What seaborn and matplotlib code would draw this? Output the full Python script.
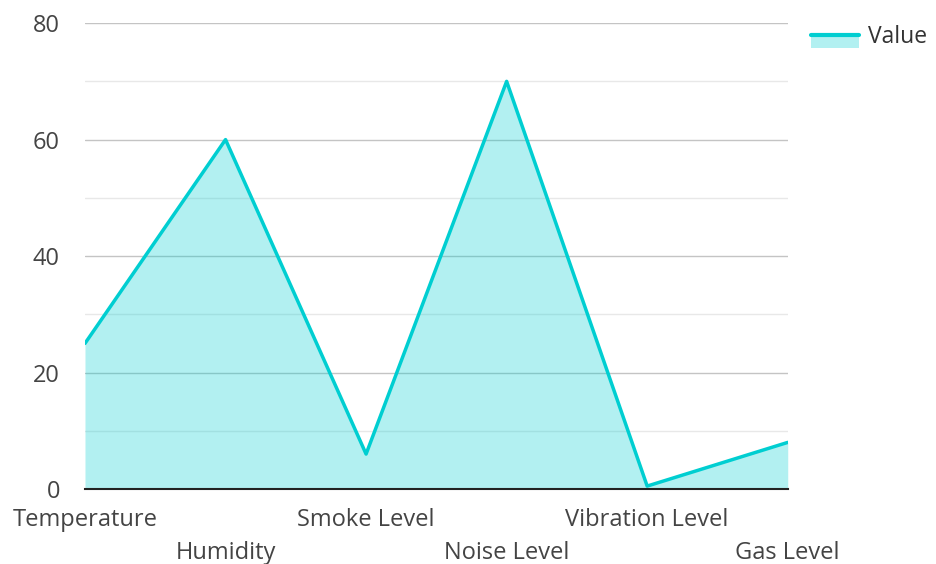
import matplotlib
matplotlib.use("Agg")
import matplotlib.pyplot as plt
import seaborn as sns
import pandas as pd
from matplotlib.legend_handler import HandlerBase
from matplotlib.patches import Rectangle
from matplotlib.lines import Line2D
from matplotlib.ticker import MultipleLocator

categories = ["Temperature", "Humidity", "Smoke Level", "Noise Level", "Vibration Level", "Gas Level"]
values = [25, 60, 6, 70, 0.5, 8]

line_color = "#00CED1"

sns.set_style("white")
plt.rcParams["font.family"] = ["Open Sans", "DejaVu Sans"]

df = pd.DataFrame({"x": range(len(categories)), "Value": values})

fig = plt.figure(figsize=(9.37, 5.64), dpi=100)
ax = fig.add_axes([0.0907, 0.133, 0.750, 0.826])

# grid under a translucent fill, so it shows through like the original
ax.grid(True, which="major", axis="y", color="#c4c4c4", lw=1, zorder=0)
ax.grid(True, which="minor", axis="y", color="#e8e8e8", lw=1, zorder=0)
ax.set_axisbelow(True)
ax.fill_between(df["x"], df["Value"], 0, color=line_color, alpha=0.3, lw=0, zorder=1)
sns.lineplot(data=df, x="x", y="Value", color=line_color, lw=2.5, ax=ax, zorder=3)

ax.set_xlim(0, len(categories) - 1)
ax.set_ylim(0, 80)
ax.yaxis.set_major_locator(MultipleLocator(20))
ax.yaxis.set_minor_locator(MultipleLocator(10))

for s in ["top", "right", "left"]:
    ax.spines[s].set_visible(False)
ax.spines["bottom"].set_color("#222222")
ax.spines["bottom"].set_linewidth(1.5)
ax.spines["bottom"].set_zorder(4)

ax.set_xticks(df["x"])
ax.set_xticklabels(categories)
ax.tick_params(axis="both", which="both", length=0, labelsize=17, labelcolor="#444444")
ax.tick_params(axis="y", pad=18)
for i, t in enumerate(ax.xaxis.get_major_ticks()):
    t.set_pad(37.5 if i % 2 else 14)
ax.set_xlabel("")
ax.set_ylabel("")


class AreaHandler(HandlerBase):
    def create_artists(self, legend, orig, xd, yd, w, h, fontsize, trans):
        r = Rectangle((xd, yd - h * 0.3), w, h * 0.8, facecolor=line_color, alpha=0.3,
                      edgecolor="none", transform=trans)
        ln = Line2D([xd, xd + w], [yd + h * 0.5, yd + h * 0.5], color=line_color,
                    lw=3, transform=trans)
        return [r, ln]


handle = Rectangle((0, 0), 1, 1)
ax.legend([handle], ["Value"], handler_map={Rectangle: AreaHandler()},
          loc="upper left", bbox_to_anchor=(1.004, 1.04), frameon=False,
          fontsize=16.5, handlelength=2.1, handletextpad=0.38, labelcolor="#333333")

fig.savefig("out.png", dpi=100)
